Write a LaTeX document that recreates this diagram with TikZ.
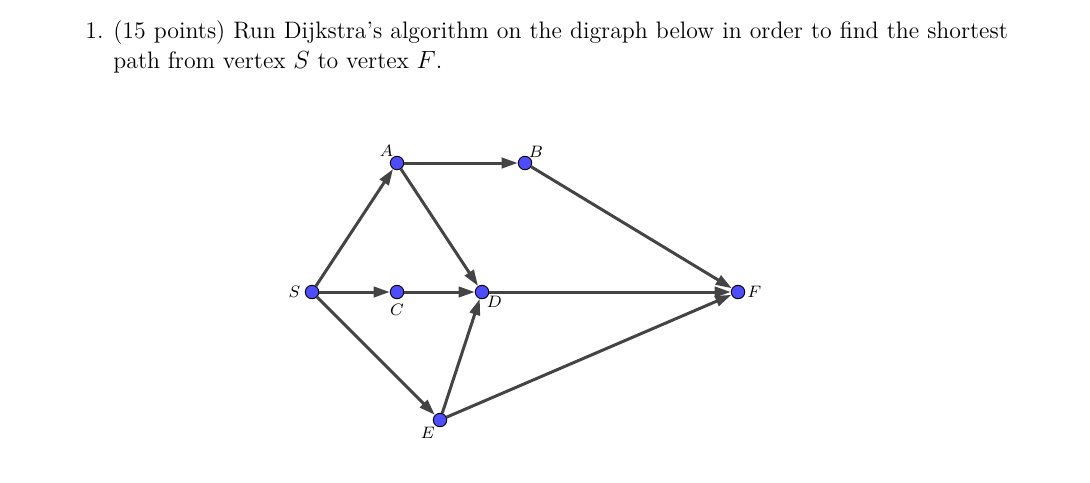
\documentclass[tikz,border=0pt]{standalone}
\usetikzlibrary{arrows.meta}
\definecolor{vblue}{RGB}{77,77,255}
\definecolor{egray}{RGB}{68,68,68}

\begin{document}
\begin{tikzpicture}[x=0.483pt,y=-0.483pt,
		every node/.style={font=\fontsize{11.5}{14.5}\selectfont},
		vtx/.style={circle,draw=black,line width=0.45pt,fill=vblue,inner sep=0pt,minimum size=6.5pt},
		lbl/.style={font=\footnotesize,inner sep=1pt},
		edge/.style={draw=egray,line width=1.45pt,-{Triangle[length=7.8pt,width=5pt]}}]
		\useasboundingbox (0,0) rectangle (1090,482);
		
		% question
		\node [anchor=base west,inner sep=0pt] (num) at (85,38) {1.};
		\node [anchor=base west,inner sep=0pt,text width=432pt,align=justify] (q) at (113,38)
			{(15 points) Run Dijkstra's algorithm on the digraph below in order to find the shortest\linebreak path from vertex $S$ to vertex $F$.};
		
		% vertices
		\node [vtx,label={[lbl,label distance=1pt]left:$S$}] (S) at (312,292) {};
		\node [vtx,label={[lbl,label distance=-1.5pt]110:$A$}] (A) at (397,163) {};
		\node [vtx,label={[lbl,label distance=-2pt]65:$B$}] (B) at (525,163) {};
		\node [vtx,label={[lbl,label distance=1pt]below:$C$}] (C) at (397,292) {};
		\node [vtx,label={[lbl,label distance=-2pt]-40:$D$}] (D) at (482,292) {};
		\node [vtx,label={[lbl,label distance=-1pt]-125:$E$}] (E) at (440,420) {};
		\node [vtx,label={[lbl]right:$F$}] (F) at (738,292) {};
		
		% edges
		\draw [edge] (S) -- (A);
		\draw [edge] (S) -- (C);
		\draw [edge] (S) -- (E);
		\draw [edge] (A) -- (B);
		\draw [edge] (A) -- (D);
		\draw [edge] (C) -- (D);
		\draw [edge] (E) -- (D);
		\draw [edge] (B) -- (F);
		\draw [edge] (D) -- (F);
		\draw [edge] (E) -- (F);
	\end{tikzpicture}
\end{document}
